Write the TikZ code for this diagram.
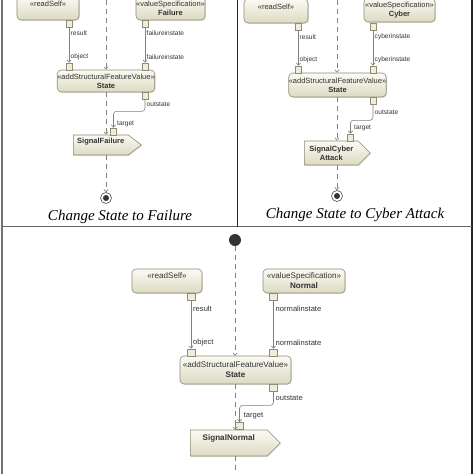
\documentclass[tikz,border=0pt]{standalone}
\usepackage{fontspec}
\setmainfont{Liberation Serif}
\setsansfont{Liberation Sans}
\usetikzlibrary{arrows.meta,shapes.symbols,shadows}
\definecolor{actlight}{HTML}{FBFBF4}
\definecolor{actdark}{HTML}{DCDAC2}
\definecolor{actmid}{HTML}{EDECDD}
\definecolor{actborder}{HTML}{8E8C74}
\definecolor{flowgray}{HTML}{808080}
\definecolor{txtgray}{HTML}{333333}

\begin{document}
\begin{tikzpicture}[x=1pt,y=-1pt,
    actbox/.style={draw=actborder,line width=0.6pt,rounded corners=4pt,top color=actlight,bottom color=actdark,
      align=center,inner sep=0pt,text=txtgray,
      drop shadow={shadow xshift=0.8pt,shadow yshift=-0.8pt,opacity=0.25}},
    sigbox/.style={signal,signal to=east,draw=actborder,line width=0.6pt,top color=actlight,bottom color=actdark,
      align=center,inner sep=0pt,text=txtgray,
      drop shadow={shadow xshift=0.8pt,shadow yshift=-0.8pt,opacity=0.25}},
    pinbox/.style={draw=actborder,line width=0.6pt,fill=actmid,minimum width=6pt,minimum height=7pt,inner sep=0pt},
    flow/.style={draw=flowgray,line width=0.6pt,-{Straight Barb[length=2.5pt,width=4.5pt]}},
    ctrl/.style={flow,dash pattern=on 5pt off 4pt},
    lbl/.style={anchor=west,inner sep=0pt,text=txtgray},
    fa/.style={font=\sffamily\fontsize{7.5}{9}\selectfont},
    la/.style={font=\sffamily\fontsize{6.6}{8}\selectfont},
    fc/.style={font=\sffamily\fontsize{8.1}{10}\selectfont},
    lc/.style={font=\sffamily\fontsize{7.6}{9}\selectfont},
    ttl/.style={font=\fontsize{15}{18}\selectfont\itshape},
    finnode/.style={circle,draw=black!70,fill=white,line width=0.6pt,minimum size=11pt,inner sep=0pt,
      path picture={\fill[black!80] (path picture bounding box.center) circle (3pt);}},
    initnode/.style={circle,fill=black!80,minimum size=12pt,inner sep=0pt}]
    \useasboundingbox (0,0) rectangle (474,474);
    \clip (0,0) rectangle (474,474);
    \draw[black!55,line width=2pt] (2,0) -- (2,474);
    \draw[black!85,line width=1.5pt] (472,0) -- (472,474);
    \draw[black!60,line width=1pt] (2,226.5) -- (472,226.5);
    \draw[black!85,line width=1pt] (237,0) -- (237,226.5);

    \node[actbox,fa,minimum width=62pt,minimum height=24pt] (readA) at (48,8) {«readSelf»\\~};
    \node[actbox,fa,minimum width=69pt,minimum height=24pt] (valA) at (170.5,8) {«valueSpecification»\\\textbf{Failure}};
    \node[actbox,fa,minimum width=94pt,minimum height=22pt] (addA) at (106,81) {«addStructuralFeatureValue»\\\textbf{State}};
    \node[sigbox,fa,minimum width=68pt,minimum height=20pt,signal pointer angle=75,anchor=west] (sigA) at (73,145) {\textbf{SignalFailure}\\~};
    \node[pinbox] (resA) at (69,23.5) {};
    \node[pinbox] (outValA) at (145,23.5) {};
    \node[pinbox] (objA) at (69,66.5) {};
    \node[pinbox] (insA) at (145,66.5) {};
    \node[pinbox] (outA) at (145,95.5) {};
    \node[pinbox] (tgtA) at (113.5,131.5) {};
    \node[finnode] (finA) at (106,198) {};
    \coordinate (topA) at (106,0);
    \draw[flow] (resA.south) -- (objA.north);
    \draw[flow] (outValA.south) -- (insA.north);
    \draw[flow,rounded corners=3pt] (outA.south) -- ++(0,12) -| (tgtA.north);
    \draw[ctrl] (topA) -- (addA.north);
    \draw[ctrl] (addA.south) -- (addA.south |- sigA.north);
    \draw[ctrl] (addA.south |- sigA.south) -- (finA.north);
    \node[lbl,la] (lResA) at (70.5,33) {result};
    \node[lbl,la] (lObjA) at (70.5,57) {object};
    \node[lbl,la] (lOutValA) at (146.5,33) {failureinstate};
    \node[lbl,la] (lInsA) at (146.5,57) {failureinstate};
    \node[lbl,la] (lOutA) at (146.5,104) {outstate};
    \node[lbl,la] (lTgtA) at (117,124) {target};
    \node[ttl] (ttlA) at (120,217) {Change State to Failure};

    \node[actbox,fa,minimum width=64pt,minimum height=24pt] (readB) at (276,11) {«readSelf»\\~};
    \node[actbox,fa,minimum width=71pt,minimum height=24pt] (valB) at (399.5,10) {«valueSpecification»\\\textbf{Cyber}};
    \node[actbox,fa,minimum width=97pt,minimum height=24pt] (addB) at (337.5,85) {«addStructuralFeatureValue»\\\textbf{State}};
    \node[sigbox,fa,minimum width=66pt,minimum height=24pt,signal pointer angle=90,anchor=west] (sigB) at (304,153) {\textbf{SignalCyber}\\\textbf{Attack}};
    \node[pinbox] (resB) at (298.5,26.5) {};
    \node[pinbox] (outValB) at (373,26.5) {};
    \node[pinbox] (objB) at (298.5,69.5) {};
    \node[pinbox] (insB) at (373,69.5) {};
    \node[pinbox] (outB) at (373,100.5) {};
    \node[pinbox] (tgtB) at (350.5,137.5) {};
    \node[finnode] (finB) at (337,196) {};
    \coordinate (topB) at (337,0);
    \draw[flow] (resB.south) -- (objB.north);
    \draw[flow] (outValB.south) -- (insB.north);
    \draw[flow,rounded corners=3pt] (outB.south) -- ++(0,16) -| (tgtB.north);
    \draw[ctrl] (topB) -- (topB |- addB.north);
    \draw[ctrl] (topB |- addB.south) -- (topB |- sigB.north);
    \draw[ctrl] (topB |- sigB.south) -- (finB.north);
    \node[lbl,la] (lResB) at (299.5,37) {result};
    \node[lbl,la] (lObjB) at (299.5,60) {object};
    \node[lbl,la] (lOutValB) at (374.5,37) {cyberinstate};
    \node[lbl,la] (lInsB) at (374.5,60) {cyberinstate};
    \node[lbl,la] (lOutB) at (374.5,112) {outstate};
    \node[lbl,la] (lTgtB) at (354,128) {target};
    \node[ttl] (ttlB) at (355,215) {Change State to Cyber Attack};

    \node[initnode] (initC) at (235,240) {};
    \node[actbox,fc,minimum width=70pt,minimum height=24pt] (readC) at (167,281) {«readSelf»\\~};
    \node[actbox,fc,minimum width=82pt,minimum height=24pt] (valC) at (304,281) {«valueSpecification»\\\textbf{Normal}};
    \node[actbox,fc,minimum width=111pt,minimum height=28pt] (addC) at (235.5,370) {«addStructuralFeatureValue»\\\textbf{State}};
    \node[sigbox,fc,minimum width=90pt,minimum height=26pt,signal pointer angle=90,anchor=west] (sigC) at (190,443) {\textbf{SignalNormal}\hspace{8pt}\\~};
    \node[pinbox,minimum width=8pt] (resC) at (191,296.5) {};
    \node[pinbox,minimum width=8pt] (outValC) at (273.5,296.5) {};
    \node[pinbox,minimum width=8pt] (objC) at (191,352.5) {};
    \node[pinbox,minimum width=8pt] (insC) at (273.5,352.5) {};
    \node[pinbox,minimum width=8pt] (outC) at (273.5,387.5) {};
    \node[pinbox,minimum width=8pt] (tgtC) at (239.5,426) {};
    \coordinate (endC) at (235,480);
    \draw[flow] (resC.south) -- (objC.north);
    \draw[flow] (outValC.south) -- (insC.north);
    \draw[flow,rounded corners=3pt] (outC.south) -- ++(0,14) -| (tgtC.north);
    \draw[ctrl] (initC) -- (initC |- addC.north);
    \draw[ctrl] (initC |- addC.south) -- (initC |- sigC.north);
    \draw[draw=flowgray,line width=0.6pt,dash pattern=on 5pt off 4pt] (initC |- sigC.south) -- (endC);
    \node[lbl,lc] (lResC) at (193,309) {result};
    \node[lbl,lc] (lObjC) at (193,343) {object};
    \node[lbl,lc] (lOutValC) at (275.5,309) {normalinstate};
    \node[lbl,lc] (lInsC) at (275.5,343) {normalinstate};
    \node[lbl,lc] (lOutC) at (275.5,398) {outstate};
    \node[lbl,lc] (lTgtC) at (243.5,416) {target};
\end{tikzpicture}
\end{document}
